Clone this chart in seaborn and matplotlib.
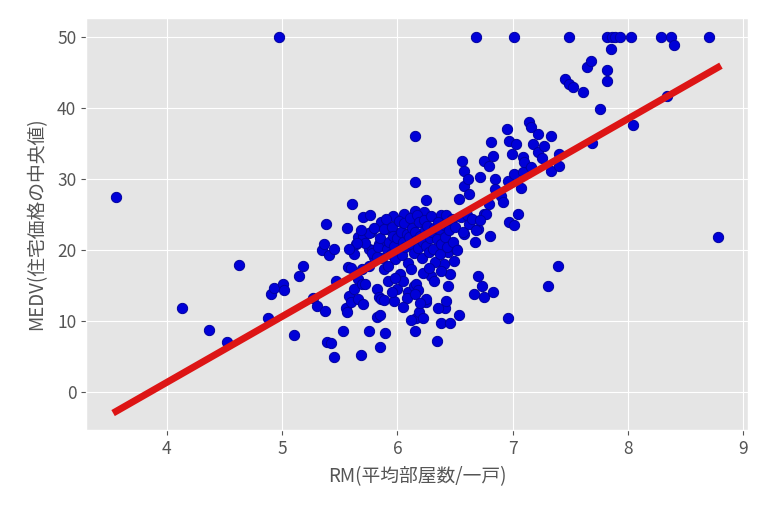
import numpy as np
import pandas as pd
import matplotlib
matplotlib.use('Agg')
import matplotlib.pyplot as plt
import seaborn as sns

# RM / MEDV, grouped by region
rm_low = [3.56, 4.13, 4.37, 4.52, 4.63, 4.88, 4.90, 4.93, 4.97, 5.01, 5.02, 5.10, 5.15, 5.18, 5.27, 5.30]
medv_low = [27.5, 11.9, 8.8, 7.1, 17.9, 10.4, 13.9, 14.7, 50.0, 15.3, 14.4, 8.1, 16.4, 17.8, 13.3, 12.1]

rm_a = [5.35, 5.36, 5.37, 5.38, 5.39, 5.41, 5.42, 5.45, 5.45, 5.47, 5.53, 5.55, 5.56, 5.56, 5.57, 5.58, 5.60, 5.60, 5.61, 5.62]
medv_a = [20.0, 20.9, 11.5, 23.7, 7.1, 19.3, 7.0, 20.2, 5.0, 15.7, 8.6, 11.8, 23.1, 11.3, 17.6, 13.6, 17.5, 12.7, 26.5, 14.6]

rm_b = [5.64, 5.66, 5.66, 5.66, 5.68, 5.69, 5.69, 5.70, 5.70, 5.72, 5.75, 5.75, 5.75, 5.77, 5.78, 5.80, 5.82, 5.82, 5.84, 5.84]
medv_b = [20.8, 13.2, 16.0, 21.8, 5.2, 15.3, 17.4, 12.5, 22.0, 15.3, 8.6, 17.8, 20.2, 22.5, 20.0, 19.0, 10.6, 14.6, 13.4, 20.9]

rm_c = [5.85, 5.85, 5.86, 5.86, 5.88, 5.88, 5.89, 5.90, 5.92, 5.96, 5.97, 6.00, 6.06, 6.09, 6.14, 6.15, 6.16, 6.19, 6.16, 6.22]
medv_c = [6.4, 10.9, 24.0, 13.2, 13.0, 17.4, 8.4, 23.0, 15.6, 24.8, 12.9, 14.6, 25.1, 14.1, 15.0, 8.7, 10.4, 11.3, 15.3, 10.4]

rm_d = [6.15, 6.15, 6.25, 6.15, 6.23, 6.38, 6.25, 6.29, 6.34, 6.38, 6.40, 6.41, 6.42, 6.44, 6.46, 6.46, 6.47, 6.49, 6.51, 6.53]
medv_d = [36.1, 29.6, 27.0, 25.5, 25.3, 25.0, 12.7, 16.3, 7.3, 9.7, 18.1, 11.8, 12.9, 19.7, 16.7, 9.7, 23.4, 18.5, 20.2, 10.9]

rm_e = [6.53, 6.56, 6.58, 6.58, 6.58, 6.61, 6.62, 6.66, 6.67, 6.68, 6.70, 6.70, 6.72, 6.73, 6.75, 6.75, 6.75, 6.77, 6.79, 6.79]
medv_e = [27.2, 32.5, 22.3, 31.1, 29.0, 30.0, 27.9, 13.9, 21.1, 50.0, 16.4, 23.0, 30.3, 15.0, 32.5, 13.4, 25.1, 25.1, 31.8, 26.5]

rm_f = [6.80, 6.81, 6.83, 6.83, 6.85, 6.85, 6.90, 6.92, 6.95, 6.96, 6.96, 6.97, 6.97, 6.99, 7.01, 7.01, 7.01, 7.03, 7.05, 7.07]
medv_f = [22.0, 35.2, 33.2, 14.1, 30.0, 28.6, 27.6, 26.7, 37.0, 29.7, 10.5, 35.4, 23.9, 33.5, 30.7, 23.5, 50.0, 34.9, 25.1, 28.7]

rm_g = [7.09, 7.09, 7.10, 7.14, 7.16, 7.16, 7.18, 7.22, 7.22, 7.25, 7.27, 7.31, 7.33, 7.33, 7.39, 7.40, 7.40]
medv_g = [33.1, 31.0, 32.4, 38.0, 37.3, 31.7, 34.9, 36.3, 33.8, 32.9, 34.6, 15.0, 36.0, 31.1, 17.8, 31.8, 33.5]

rm_high = [7.45, 7.49, 7.49, 7.52, 7.61, 7.64, 7.68, 7.69, 7.76, 7.82, 7.82, 7.82,
           7.85, 7.86, 7.89, 7.93, 8.03, 8.04, 8.29, 8.34, 8.37, 8.40, 8.70, 8.78]
medv_high = [44.0, 50.0, 43.3, 42.9, 42.2, 45.8, 46.6, 35.0, 39.8, 45.3, 43.7, 50.0,
             48.3, 50.0, 50.0, 50.0, 50.0, 37.6, 50.0, 41.6, 50.0, 48.8, 50.0, 21.9]

# the crowded middle of the cloud
rm_core = [5.72, 5.75, 5.78, 5.80, 5.83, 5.85, 5.87, 5.88, 5.90, 5.91,
           5.93, 5.94, 5.95, 5.96, 5.97, 5.98, 6.00, 6.01, 6.02, 6.03,
           6.04, 6.05, 6.06, 6.07, 6.08, 6.09, 6.10, 6.11, 6.12, 6.13,
           6.14, 6.15, 6.16, 6.17, 6.18, 6.19, 6.20, 6.21, 6.22, 6.23,
           6.24, 6.25, 6.26, 6.27, 6.28, 6.29, 6.30, 6.31, 6.32, 6.33,
           6.34, 6.35, 6.36, 6.37, 6.38, 6.40, 6.41, 6.42, 6.43, 6.45,
           6.47, 6.48, 6.50, 6.52, 6.55, 6.57, 6.60, 6.62, 6.65, 6.68,
           6.72, 5.65, 5.68, 5.62, 5.58, 5.70, 5.76, 5.82, 5.92, 6.02,
           6.12, 6.22, 6.05, 5.98, 6.18, 6.27, 6.32, 6.38, 6.44, 6.08,
           6.15, 5.95, 6.25, 6.35, 6.05, 6.12, 6.20]
medv_core = [21.0, 22.4, 19.6, 23.1, 20.5, 21.7, 18.9, 22.9, 24.4, 20.1,
             21.2, 19.4, 23.3, 22.0, 20.6, 18.7, 21.7, 24.1, 20.0, 22.6,
             19.3, 21.2, 23.8, 20.4, 22.2, 18.2, 21.9, 24.5, 20.9, 23.1,
             19.6, 22.6, 21.4, 25.0, 20.3, 23.9, 22.0, 18.9, 21.1, 24.3,
             22.8, 20.6, 23.4, 19.8, 21.7, 24.8, 22.5, 20.1, 23.1, 18.4,
             21.6, 24.0, 22.9, 19.4, 20.8, 23.6, 21.9, 25.0, 20.4, 22.8,
             24.4, 21.2, 23.3, 20.0, 24.7, 22.6, 25.0, 23.7, 24.4, 22.8,
             24.3, 21.0, 22.8, 19.4, 20.2, 24.7, 25.0, 19.0, 17.8, 16.6,
             17.4, 16.8, 15.6, 16.1, 14.4, 17.5, 15.6, 17.0, 14.9, 13.3,
             13.8, 14.1, 13.1, 11.9, 12.0, 10.2, 12.6]

# fitted line
coef = 9.26
intercept = -35.62

rm = rm_low + rm_a + rm_b + rm_c + rm_d + rm_e + rm_f + rm_g + rm_high + rm_core
medv = medv_low + medv_a + medv_b + medv_c + medv_d + medv_e + medv_f + medv_g + medv_high + medv_core
df = pd.DataFrame({'RM': rm, 'MEDV': medv})

plt.style.use('ggplot')
plt.rcParams['font.family'] = ['Noto Sans CJK JP', 'DejaVu Sans']

fig, ax = plt.subplots(figsize=(7.68, 5.12), dpi=100)
fig.subplots_adjust(left=0.112, right=0.974, top=0.965, bottom=0.16)

sns.scatterplot(data=df, x='RM', y='MEDV', color='#0000d8', edgecolor='#0000a0',
                s=55, linewidth=0.7, ax=ax, zorder=2)
line_x = np.array([df['RM'].min(), df['RM'].max()])
sns.lineplot(x=line_x, y=intercept + coef * line_x, color='#dd1515', lw=5, ax=ax, zorder=3)

ax.set_xlabel('RM(平均部屋数/一戸)', fontsize=13.5, color='#555555', labelpad=6)
ax.set_ylabel('MEDV(住宅価格の中央値)', fontsize=13.5, color='#555555', labelpad=7)
ax.tick_params(labelsize=12.5, colors='#555555')

fig.savefig('out.png', dpi=100)
